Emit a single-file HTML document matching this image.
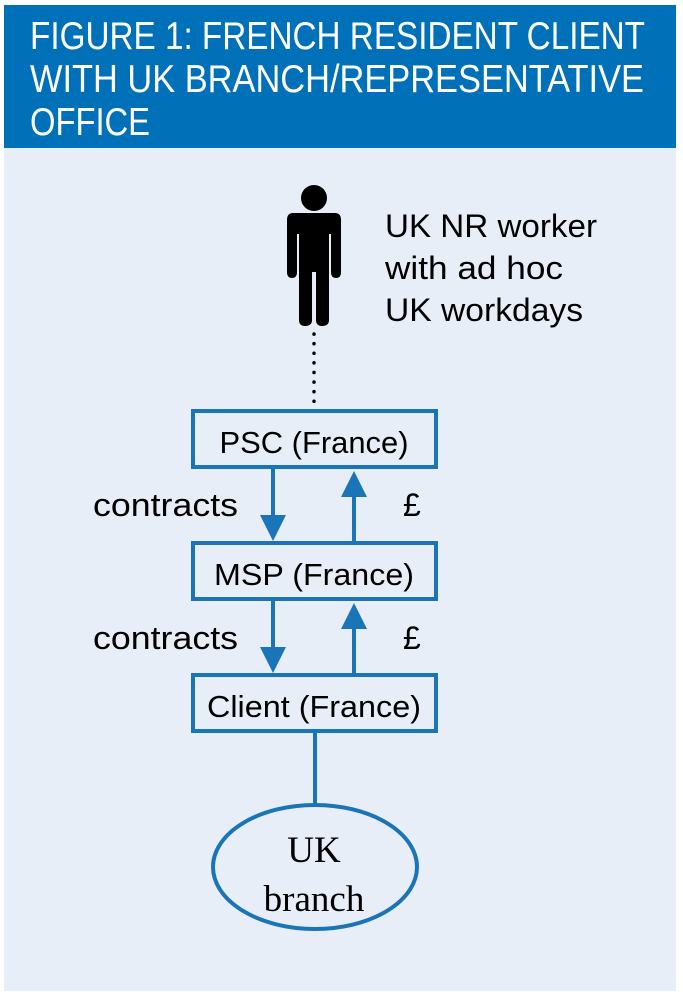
<!DOCTYPE html>
<html><head><meta charset="utf-8"><style>
html,body{margin:0;padding:0;background:#fff;}
svg{display:block}
</style></head><body>
<svg width="683" height="999" xmlns="http://www.w3.org/2000/svg">
<rect x="4" y="148" width="672" height="843" fill="#e8eef8"/>
<rect x="4" y="5" width="672" height="143" fill="#0070b8"/>
<g font-family="Liberation Sans Narrow, Liberation Sans, sans-serif" font-size="39" fill="#fff">
<text x="30" y="49" textLength="615" lengthAdjust="spacingAndGlyphs">FIGURE 1: FRENCH RESIDENT CLIENT</text>
<text x="30" y="92" textLength="614" lengthAdjust="spacingAndGlyphs">WITH UK BRANCH/REPRESENTATIVE</text>
<text x="30" y="135" textLength="120" lengthAdjust="spacingAndGlyphs">OFFICE</text>
</g>
<!-- person -->
<g fill="#000">
<circle cx="314" cy="198" r="13"/>
<path d="M293 213 H335 Q341 213 341 220 V272 Q341 278 336 278 Q331 278 331 272 V234 H329 V320 Q329 326 322 326 Q316 326 316 320 V272 H312 V320 Q312 326 305 326 Q299 326 299 320 V234 H297 V272 Q297 278 292 278 Q287 278 287 272 V220 Q287 213 293 213 Z"/>
</g>
<line x1="314" y1="334" x2="314" y2="408" stroke="#000" stroke-width="3.5" stroke-dasharray="0.1 9.5" stroke-linecap="round"/>
<g font-family="Liberation Sans, sans-serif" font-size="32" fill="#000">
<text x="385" y="237" textLength="212" lengthAdjust="spacingAndGlyphs">UK NR worker</text>
<text x="385" y="279" textLength="178" lengthAdjust="spacingAndGlyphs">with ad hoc</text>
<text x="385" y="321" textLength="198" lengthAdjust="spacingAndGlyphs">UK workdays</text>
<text x="93" y="516" textLength="145" lengthAdjust="spacingAndGlyphs">contracts</text>
<text x="93" y="649" textLength="145" lengthAdjust="spacingAndGlyphs">contracts</text>
<text x="403" y="516">£</text>
<text x="403" y="649">£</text>
</g>
<g fill="none" stroke="#1a74b8" stroke-width="4">
<rect x="193" y="411" width="243" height="56"/>
<rect x="193" y="543" width="243" height="56"/>
<rect x="193" y="675" width="243" height="56"/>
<line x1="273" y1="469" x2="273" y2="520"/>
<line x1="354" y1="492" x2="354" y2="541"/>
<line x1="273" y1="601" x2="273" y2="652"/>
<line x1="354" y1="624" x2="354" y2="673"/>
<line x1="315" y1="733" x2="315" y2="805"/>
<ellipse cx="315" cy="867" rx="102" ry="62"/>
</g>
<g fill="#1a74b8">
<polygon points="260,515 286,515 273,541"/>
<polygon points="341,497 367,497 354,471"/>
<polygon points="260,647 286,647 273,673"/>
<polygon points="341,629 367,629 354,603"/>
</g>
<g font-family="Liberation Sans, sans-serif" font-size="31" fill="#000" text-anchor="middle">
<text x="314" y="453" textLength="189" lengthAdjust="spacingAndGlyphs">PSC (France)</text>
<text x="314" y="585" textLength="200" lengthAdjust="spacingAndGlyphs">MSP (France)</text>
<text x="314" y="717" textLength="214" lengthAdjust="spacingAndGlyphs">Client (France)</text>
</g>
<g font-family="Liberation Serif, serif" font-size="37" fill="#000" text-anchor="middle">
<text x="314" y="862">UK</text>
<text x="314" y="911">branch</text>
</g>
</svg>
</body></html>
